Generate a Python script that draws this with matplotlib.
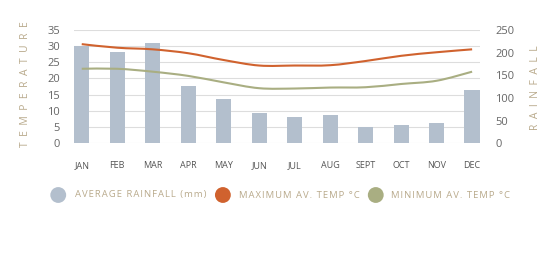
import numpy as np
import matplotlib.pyplot as plt
from matplotlib.path import Path
from matplotlib.patches import PathPatch

plt.rcParams['font.family'] = ['Open Sans', 'DejaVu Sans']

months = ["JAN", "FEB", "MAR", "APR", "MAY", "JUN",
          "JUL", "AUG", "SEPT", "OCT", "NOV", "DEC"]
rainfall = [215, 202, 221, 126, 97, 66, 57, 63, 36, 41, 45, 117]
max_temp = [30.6, 29.5, 29.0, 27.8, 25.7, 24.0, 24.0, 24.1, 25.4, 27.0, 28.1, 29.0]
min_temp = [23.0, 23.0, 22.1, 20.8, 18.8, 17.0, 16.9, 17.2, 17.3, 18.3, 19.3, 22.1]

temp_ticks = [0, 5, 10, 15, 20, 25, 30, 35]
rain_ticks = [0, 50, 100, 150, 200, 250]
legend_labels = ["AVERAGE RAINFALL (mm)", "MAXIMUM AV. TEMP °C", "MINIMUM AV. TEMP °C"]

BAR = "#b3bfcd"
MAXC = "#d0622e"
MINC = "#a9ae82"
TAN = "#b9aa8c"
GREY = "#666666"


def smooth_path(x, y):
    """Catmull-Rom style bezier path through the points."""
    x = np.asarray(x, float)
    y = np.asarray(y, float)
    verts = [(x[0], y[0])]
    codes = [Path.MOVETO]
    n = len(x)
    for i in range(n - 1):
        p0 = i - 1 if i > 0 else i
        p3 = i + 2 if i + 2 < n else i + 1
        c1 = (x[i] + (x[i + 1] - x[p0]) / 6, y[i] + (y[i + 1] - y[p0]) / 6)
        c2 = (x[i + 1] - (x[p3] - x[i]) / 6, y[i + 1] - (y[p3] - y[i]) / 6)
        verts += [c1, c2, (x[i + 1], y[i + 1])]
        codes += [Path.CURVE4] * 3
    return Path(verts, codes)


def spaced(s, gap="\u200a"):
    return gap.join(s)


fig = plt.figure(figsize=(5.6, 2.6), dpi=100)
ax = fig.add_axes([0.132, 0.449, 0.725, 0.436])
ax2 = ax.twinx()

x = np.arange(len(months))

ax2.bar(x, rainfall, width=0.43, color=BAR, zorder=2)
ax2.set_ylim(0, 250)
ax.set_ylim(0, 35)
ax.set_xlim(-0.22, 11.22)

for c in [ax, ax2]:
    for s in c.spines.values():
        s.set_visible(False)

# gridlines under the bars, lines on top
ax.set_zorder(ax2.get_zorder() + 1)
ax.patch.set_visible(False)
for yv in temp_ticks:
    ax2.axhline(yv * 250 / 35, color="#dddddd", lw=0.8, zorder=1)

ax.add_patch(PathPatch(smooth_path(x, max_temp), fill=False, edgecolor=MAXC, lw=1.5, zorder=3))
ax.add_patch(PathPatch(smooth_path(x, min_temp), fill=False, edgecolor=MINC, lw=1.5, zorder=3))

ax.set_yticks(temp_ticks)
ax2.set_yticks(rain_ticks)

ax.set_xticks(x)
ax.set_xticklabels(months)
ax.tick_params(axis="x", length=0, pad=13, labelsize=6.5, labelcolor="#555555")
ax.tick_params(axis="y", length=0, pad=10, labelsize=8, labelcolor=GREY)
ax2.tick_params(axis="y", length=0, pad=11, labelsize=8, labelcolor=GREY)

fig.text(0.045, 0.675, "  ".join("TEMPERATURE"), rotation=90, ha="center", va="center",
         color=TAN, fontsize=7.5)
fig.text(0.957, 0.663, "  ".join("RAINFALL"), rotation=90, ha="center", va="center",
         color=TAN, fontsize=7.5)

# legend
lax = fig.add_axes([0, 0, 1, 1], zorder=-5)
lax.set_xlim(0, 1)
lax.set_ylim(0, 1)
lax.axis("off")
dot_x = [0.104, 0.398, 0.671]
text_x = [0.134, 0.427, 0.698]
lax.scatter(dot_x, [0.25] * 3, s=130, c=[BAR, MAXC, MINC], linewidths=0)
for label, tx in zip(legend_labels, text_x):
    fig.text(tx, 0.25, spaced(label), color=TAN, fontsize=6.8, va="center", ha="left")

fig.savefig("out.png", dpi=100)
